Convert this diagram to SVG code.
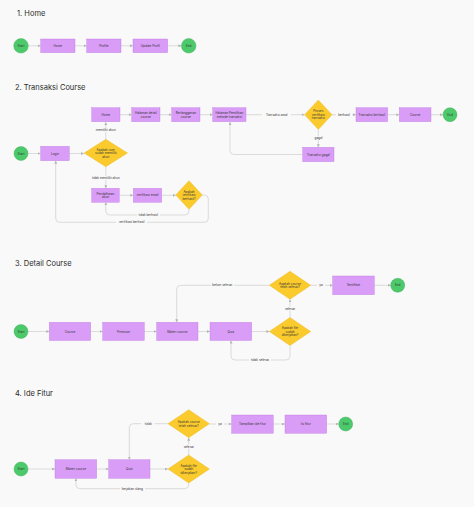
<svg xmlns="http://www.w3.org/2000/svg" width="474" height="507" viewBox="0 0 474 507">
<defs>
<marker id="arr" viewBox="0 0 6 6" refX="6" refY="3" markerWidth="3" markerHeight="3" markerUnits="userSpaceOnUse" orient="auto"><path d="M0,0 L6,3 L0,6 z" fill="#b5b5b5"/></marker>
<style>
.bg{fill:#f9f9f9}
.h{font-family:Inter,"Liberation Sans",sans-serif;font-size:7.5px;font-weight:400;fill:#2b2b2b}
.r{fill:#d99cf7;stroke:#c07fe0;stroke-width:.4}
.c{fill:#4cc96a;stroke:#3aa857;stroke-width:.4}
.d{fill:#fbcb2d;stroke:#e9b719;stroke-width:.4}
.t{font-family:Inter,"Liberation Sans",sans-serif;font-size:3.1px;fill:#333;text-anchor:middle;dominant-baseline:central}
.e{fill:none;stroke:#c6c6c6;stroke-width:.6;marker-end:url(#arr)}
.lb{fill:#f9f9f9}
</style>
</defs>
<rect class="bg" x="0" y="0" width="474" height="507"/>
<text class="h" x="17" y="16">1. Home</text>
<text class="h" x="15" y="90">2. Transaksi Course</text>
<text class="h" x="15" y="265.5">3. Detail Course</text>
<text class="h" x="15" y="396">4. Ide Fitur</text>

<g id="connectors">
<path class="e" d="M28.3 45.8 H40.7"/>
<path class="e" d="M75 45.8 H86.7"/>
<path class="e" d="M121 45.8 H133"/>
<path class="e" d="M167.7 45.8 H181.4"/>
<path class="e" d="M28 153.5 H40.7"/>
<path class="e" d="M69.3 153.5 H84"/>
<path class="e" d="M105.8 139.3 V122"/>
<path class="e" d="M105.8 166.7 V188.3"/>
<path class="e" d="M120 114.7 H131.7"/>
<path class="e" d="M160 114.7 H171.7"/>
<path class="e" d="M200 114.7 H212.7"/>
<path class="e" d="M246 114.7 H304.6"/>
<path class="e" d="M332 114.7 H356"/>
<path class="e" d="M387.7 114.7 H399.3"/>
<path class="e" d="M431 114.7 H443"/>
<path class="e" d="M318.3 129.4 V147.3"/>
<path class="e" d="M302.7 154.5 H234 Q230 154.5 230 150.5 V122"/>
<path class="e" d="M119.3 195.3 H133.3"/>
<path class="e" d="M161.7 195.3 H175.7"/>
<path class="e" d="M189 209.3 V211 Q189 215 185 215 H109.8 Q105.8 215 105.8 211 V202.3"/>
<path class="e" d="M202.3 195 H204.3 Q208.3 195 208.3 199 V218.3 Q208.3 222.3 204.3 222.3 H59.7 Q55.7 222.3 55.7 218.3 V160.7"/>
<path class="e" d="M28 331.5 H49.3"/>
<path class="e" d="M90.7 331.5 H102.7"/>
<path class="e" d="M144.3 331.5 H156.7"/>
<path class="e" d="M198 331.5 H210"/>
<path class="e" d="M251.7 331.5 H269.3"/>
<path class="e" d="M290 317.5 V299.3"/>
<path class="e" d="M269.3 285.3 H180.7 Q176.7 285.3 176.7 289.3 V322.3"/>
<path class="e" d="M310.7 285.3 H332.7"/>
<path class="e" d="M374.3 285.3 H390.7"/>
<path class="e" d="M290 345.5 V356 Q290 360 286 360 H235 Q231 360 231 356 V340.5"/>
<path class="e" d="M28 469 H55"/>
<path class="e" d="M96.7 469 H108.7"/>
<path class="e" d="M150 469 H168"/>
<path class="e" d="M188.7 455 V437.7"/>
<path class="e" d="M168 423.7 H133.3 Q129.3 423.7 129.3 427.7 V459.7"/>
<path class="e" d="M209.4 424 H231.7"/>
<path class="e" d="M273.3 424 H285"/>
<path class="e" d="M326.7 424 H338.7"/>
<path class="e" d="M188.7 483 V484.7 Q188.7 488.7 184.7 488.7 H79.9 Q75.9 488.7 75.9 484.7 V478.3"/>
<rect class="lb" x="94" y="128" width="24" height="4"/><text class="t" x="105.8" y="130">memiliki akun</text>
<rect class="lb" x="90" y="175.7" width="32" height="4"/><text class="t" x="105.8" y="177.7">tidak memiliki akun</text>
<rect class="lb" x="262" y="112.7" width="29" height="4"/><text class="t" x="276.7" y="114.7">Transaksi awal</text>
<rect class="lb" x="336" y="112.7" width="16" height="4"/><text class="t" x="344" y="114.7">berhasil</text>
<rect class="lb" x="312" y="136.3" width="13" height="4"/><text class="t" x="318.5" y="138.3">gagal</text>
<rect class="lb" x="137" y="213" width="23" height="4"/><text class="t" x="148.3" y="215">tidak berhasil</text>
<rect class="lb" x="116" y="220.3" width="31" height="4"/><text class="t" x="131.7" y="222.3">verifikasi berhasil</text>
<rect class="lb" x="211" y="283.3" width="23" height="4"/><text class="t" x="222.3" y="285.3">belum selesai</text>
<rect class="lb" x="282" y="306.5" width="16" height="4"/><text class="t" x="290" y="308.5">selesai</text>
<rect class="lb" x="317" y="283.3" width="8" height="4"/><text class="t" x="321" y="285.3">ya</text>
<rect class="lb" x="249" y="358" width="22" height="4"/><text class="t" x="260" y="360">tidak selesai</text>
<rect class="lb" x="141" y="421.7" width="14" height="4"/><text class="t" x="148.3" y="423.7">tidak</text>
<rect class="lb" x="180.7" y="444.7" width="16" height="4"/><text class="t" x="188.7" y="446.7">selesai</text>
<rect class="lb" x="216" y="422" width="8" height="4"/><text class="t" x="220" y="424">ya</text>
<rect class="lb" x="120" y="486.7" width="25" height="4"/><text class="t" x="132.3" y="488.7">kerjakan ulang</text>
</g>

<g id="s1-start"><circle class="c" cx="21" cy="45.8" r="7.3"/><text class="t" x="21" y="45.8">Start</text></g>
<g id="s1-home"><rect class="r" x="40.7" y="39" width="34.3" height="13.7"/><text class="t" x="57.85" y="45.8">Home</text></g>
<g id="s1-profile"><rect class="r" x="86.7" y="39" width="34.3" height="13.7"/><text class="t" x="103.85" y="45.8">Profile</text></g>
<g id="s1-update"><rect class="r" x="133" y="39" width="34.7" height="13.7"/><text class="t" x="150.35" y="45.8">Update Profil</text></g>
<g id="s1-end"><circle class="c" cx="188.7" cy="45.8" r="7.3"/><text class="t" x="188.7" y="45.8">End</text></g>

<g id="s2-start"><circle class="c" cx="21" cy="153.5" r="7"/><text class="t" x="21" y="153.5">Start</text></g>
<g id="s2-login"><rect class="r" x="40.7" y="146.3" width="28.6" height="14.4"/><text class="t" x="55" y="153.5">Login</text></g>
<g id="s2-akun"><polygon class="d" points="105.8,139.3 127.5,153 105.8,166.7 84.1,153"/><text class="t" x="105.8" y="149.5">Apakah user</text><text class="t" x="105.8" y="153">sudah memiliki</text><text class="t" x="105.8" y="156.5">akun</text></g>
<g id="s2-home"><rect class="r" x="91.7" y="107.7" width="28.3" height="14"/><text class="t" x="105.85" y="114.7">Home</text></g>
<g id="s2-detail"><rect class="r" x="131.7" y="107.7" width="28.3" height="14"/><text class="t" x="145.85" y="113">Halaman detail</text><text class="t" x="145.85" y="116.5">course</text></g>
<g id="s2-langganan"><rect class="r" x="171.7" y="107.7" width="28.3" height="14"/><text class="t" x="185.85" y="113">Berlangganan</text><text class="t" x="185.85" y="116.5">course</text></g>
<g id="s2-metode"><rect class="r" x="212.7" y="107.7" width="33.3" height="14"/><text class="t" x="229.35" y="113">Halaman Pemilihan</text><text class="t" x="229.35" y="116.5">metode transaksi</text></g>
<g id="s2-proses"><polygon class="d" points="318.3,100 332,114.7 318.3,129.4 304.6,114.7"/><text class="t" x="318.3" y="111.2">Proses</text><text class="t" x="318.3" y="114.7">verifikasi</text><text class="t" x="318.3" y="118.2">transaksi</text></g>
<g id="s2-berhasil"><rect class="r" x="356" y="107.7" width="31.7" height="14"/><text class="t" x="371.85" y="114.7">Transaksi berhasil</text></g>
<g id="s2-course"><rect class="r" x="399.3" y="107.7" width="31.7" height="14"/><text class="t" x="415.15" y="114.7">Course</text></g>
<g id="s2-end"><circle class="c" cx="450" cy="114.7" r="7"/><text class="t" x="450" y="114.7">End</text></g>
<g id="s2-gagal"><rect class="r" x="302.7" y="147.3" width="31.3" height="14.4"/><text class="t" x="318.35" y="154.5">Transaksi gagal</text></g>
<g id="s2-daftar"><rect class="r" x="91.7" y="188.3" width="27.6" height="14"/><text class="t" x="105.5" y="193.6">Pendaftaran</text><text class="t" x="105.5" y="197.1">akun</text></g>
<g id="s2-email"><rect class="r" x="133.3" y="188.3" width="28.4" height="14"/><text class="t" x="147.5" y="195.3">verifikasi email</text></g>
<g id="s2-verif"><polygon class="d" points="189,180.7 202.3,195 189,209.3 175.7,195"/><text class="t" x="189" y="191.5">Apakah</text><text class="t" x="189" y="195">verifikasi</text><text class="t" x="189" y="198.5">berhasil?</text></g>

<g id="s3-start"><circle class="c" cx="21" cy="331.5" r="7"/><text class="t" x="21" y="331.5">Start</text></g>
<g id="s3-course"><rect class="r" x="49.3" y="322.3" width="41.4" height="18.2"/><text class="t" x="70" y="331.5">Course</text></g>
<g id="s3-premium"><rect class="r" x="102.7" y="322.3" width="41.6" height="18.2"/><text class="t" x="123.5" y="331.5">Premium</text></g>
<g id="s3-materi"><rect class="r" x="156.7" y="322.3" width="41.3" height="18.2"/><text class="t" x="177.35" y="331.5">Materi course</text></g>
<g id="s3-quiz"><rect class="r" x="210" y="322.3" width="41.7" height="18.2"/><text class="t" x="230.85" y="331.5">Quiz</text></g>
<g id="s3-dikerjakan"><polygon class="d" points="290,317.5 310.7,331.5 290,345.5 269.3,331.5"/><text class="t" x="290" y="328">Apakah file</text><text class="t" x="290" y="331.5">sudah</text><text class="t" x="290" y="335">dikerjakan?</text></g>
<g id="s3-selesai"><polygon class="d" points="290,271.3 310.7,285.3 290,299.3 269.3,285.3"/><text class="t" x="290" y="283.5">Apakah course</text><text class="t" x="290" y="287">telah selesai?</text></g>
<g id="s3-sertifikat"><rect class="r" x="332.7" y="276" width="41.6" height="18.7"/><text class="t" x="353.5" y="285.3">Sertifikat</text></g>
<g id="s3-end"><circle class="c" cx="397.7" cy="285.3" r="7"/><text class="t" x="397.7" y="285.3">End</text></g>

<g id="s4-start"><circle class="c" cx="21" cy="469" r="7"/><text class="t" x="21" y="469">Start</text></g>
<g id="s4-materi"><rect class="r" x="55" y="459.7" width="41.7" height="18.6"/><text class="t" x="75.85" y="469">Materi course</text></g>
<g id="s4-quiz"><rect class="r" x="108.7" y="459.7" width="41.3" height="18.6"/><text class="t" x="129.35" y="469">Quiz</text></g>
<g id="s4-dikerjakan"><polygon class="d" points="188.7,455 209.4,469 188.7,483 168,469"/><text class="t" x="188.7" y="465.5">Apakah file</text><text class="t" x="188.7" y="469">sudah</text><text class="t" x="188.7" y="472.5">dikerjakan?</text></g>
<g id="s4-selesai"><polygon class="d" points="188.7,409.7 209.4,423.7 188.7,437.7 168,423.7"/><text class="t" x="188.7" y="422">Apakah course</text><text class="t" x="188.7" y="425.5">telah selesai?</text></g>
<g id="s4-tampil"><rect class="r" x="231.7" y="415" width="41.6" height="18.3"/><text class="t" x="252.5" y="424.1">Tampilkan ide fitur</text></g>
<g id="s4-fitur"><rect class="r" x="285" y="415" width="41.7" height="18.3"/><text class="t" x="305.85" y="424.1">Isi fitur</text></g>
<g id="s4-end"><circle class="c" cx="345.7" cy="424" r="7"/><text class="t" x="345.7" y="424">End</text></g>
</svg>
